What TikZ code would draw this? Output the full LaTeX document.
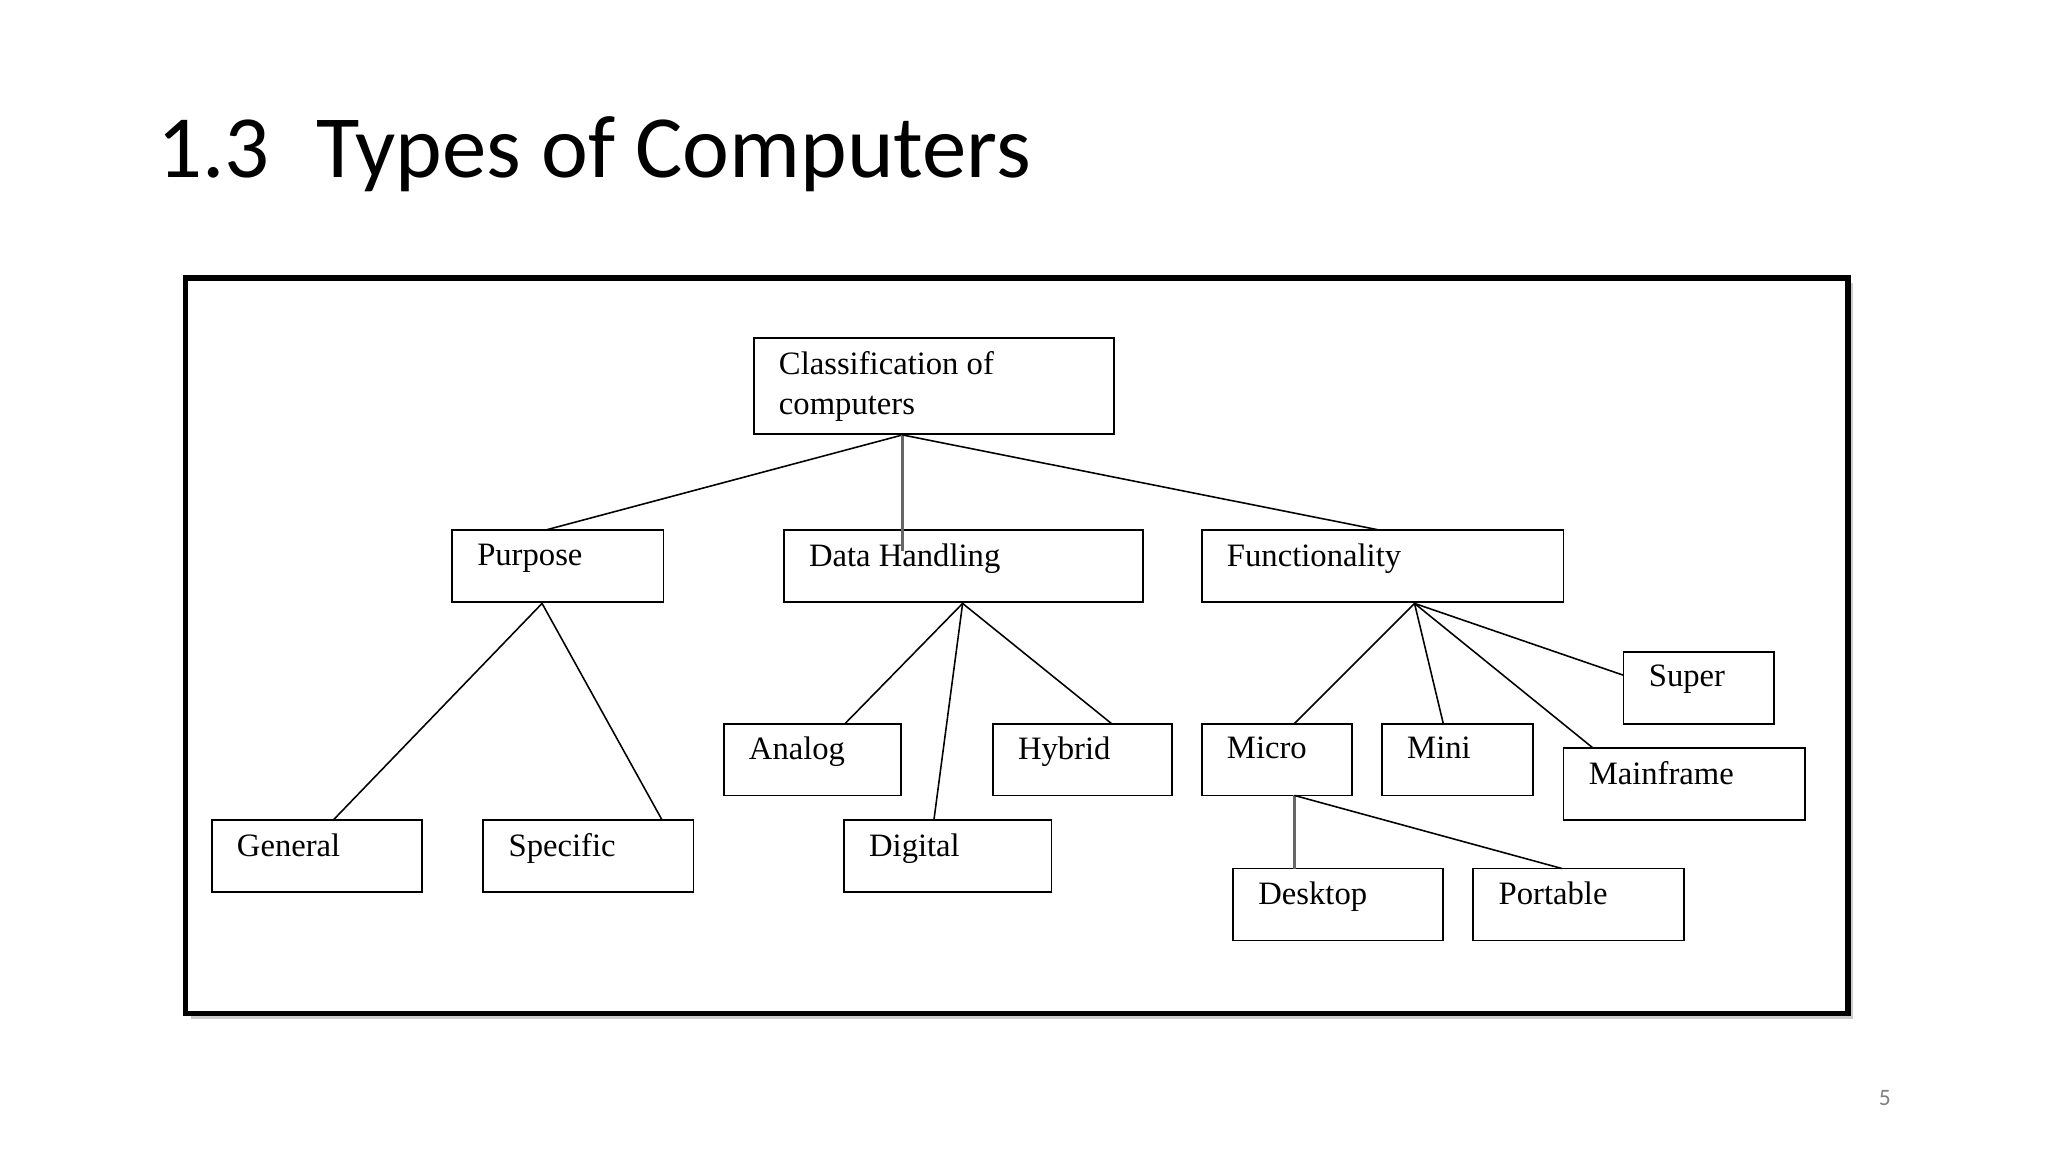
\documentclass[tikz,border=0pt]{standalone}
\usepackage{fontspec}
\setmainfont{Liberation Serif}
\newfontfamily\titlefont{Carlito}
\begin{document}
\begin{tikzpicture}[x=0.5pt,y=-0.5pt,
  bx/.style={draw,line width=0.7pt},
  lbl/.style={anchor=north west,inner sep=0pt,font=\fontsize{12.5}{15}\selectfont},
  ln/.style={line width=0.6pt},
  gl/.style={line width=1.3pt,draw=gray!80!black}]
\useasboundingbox (0,0) rectangle (1568,882);
\node[anchor=west,inner sep=0pt,font=\titlefont\fontsize{34}{40}\selectfont] (title) at (120,118) {1.3\hspace{0.3em} Types of Computers};
\node[font=\titlefont\fontsize{9}{10}\selectfont,text=gray] (pg) at (1443,841) {5};
\fill[gray!40] (146,217) rectangle (1419,780);
\draw[line width=2.2pt,fill=white] (142,213) rectangle (1415,776);
\newcommand{\bxn}[6]{\draw[bx] (#2,#3) rectangle (#4,#5); \node[lbl] (#1) at (#2+19,#3+10) {#6};}
\bxn{cls}{577}{259}{853}{332}{\parbox{200pt}{\lineskiplimit=-10pt\baselineskip=15pt Classification of\\computers}}
\bxn{pur}{346}{406}{508}{461}{Purpose}
\bxn{dh}{600}{406}{875}{461}{Data Handling}
\bxn{fun}{920}{406}{1197}{461}{Functionality}
\bxn{gen}{162}{628}{323}{683}{General}
\bxn{spe}{370}{628}{531}{683}{Specific}
\bxn{ana}{554}{554}{690}{609}{Analog}
\bxn{hyb}{760}{554}{897}{609}{Hybrid}
\bxn{dig}{646}{628}{805}{683}{Digital}
\bxn{mic}{920}{554}{1035}{609}{Micro}
\bxn{min}{1058}{554}{1174}{609}{Mini}
\bxn{sup}{1243}{499}{1358}{554}{Super}
\bxn{mai}{1197}{573}{1382}{628}{Mainframe}
\bxn{des}{944}{665}{1105}{720}{Desktop}
\bxn{por}{1128}{665}{1289}{720}{Portable}
\coordinate (c0) at (691,333);
\draw[ln] (c0) -- (417,406);
\draw[gl] (c0) -- (691,422);
\draw[ln] (c0) -- (1057,406);
\coordinate (p0) at (415,462);
\draw[ln] (p0) -- (255,628);
\draw[ln] (p0) -- (507,628);
\coordinate (d0) at (737,462);
\draw[ln] (d0) -- (647,554);
\draw[ln] (d0) -- (715,628);
\draw[ln] (d0) -- (851,554);
\coordinate (f0) at (1083,462);
\draw[ln] (f0) -- (991,554);
\draw[ln] (f0) -- (1105,554);
\draw[ln] (f0) -- (1220,573);
\draw[ln] (f0) -- (1243,517);
\coordinate (m0) at (991,609);
\draw[gl] (m0) -- (991,665);
\draw[ln] (m0) -- (1196,665);
\end{tikzpicture}
\end{document}
